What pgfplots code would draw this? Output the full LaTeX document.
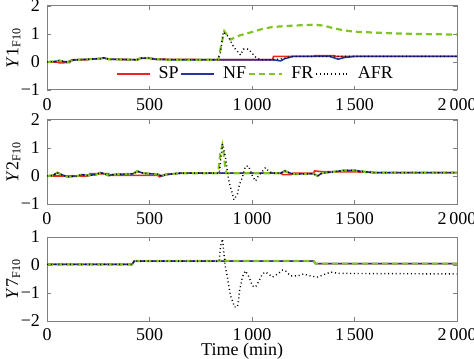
\documentclass[border=0pt]{standalone}
\usepackage{fontspec}
\setmainfont{Liberation Serif}
\usepackage{pgfplots}
\pgfplotsset{compat=1.18}
\definecolor{cSP}{RGB}{230,40,30}
\definecolor{cNF}{RGB}{40,50,160}
\definecolor{cFR}{RGB}{130,195,40}
\definecolor{cFrame}{RGB}{128,128,128}
\pgfplotsset{
 myax/.style={
  scale only axis, width=205pt, height=42pt,
  xmin=0, xmax=2000,
  xtick={0,500,1000,1500,2000},
  xticklabels={0,500,1\,000,1\,500,2\,000},
  tick align=inside, major tick length=2pt,
  axis line style={cFrame, line width=0.5pt},
  tick style={cFrame, line width=0.4pt},
  anchor=south west,
  ylabel style={at={(axis description cs:-0.082,0.5)}, anchor=center},
  xticklabel style={yshift=-0.5pt},
  legend image code/.code={\draw[##1] (0pt,0pt) -- (16.5pt,0pt);},
 },
 sp/.style={cSP, line width=0.8pt},
 nf/.style={cNF, line width=0.8pt},
 fr/.style={cFR, line width=1.1pt, dash pattern=on 3pt off 2pt},
 afr/.style={black, line width=0.7pt, dash pattern=on 0.5pt off 1.4pt},
}
\begin{document}
\begin{tikzpicture}[font=\fontsize{9}{10}\selectfont]
\path[use as bounding box] (0,0) rectangle (237pt,179pt);
% ---------------- Top: Y1 ----------------
\begin{axis}[myax, at={(23.5pt,134pt)},
  ymin=-1, ymax=2, ytick={-1,0,1,2}, yticklabels={−1,0,1,2},
  ylabel={\textit{Y}1\textsubscript{F10}},
  legend columns=4,
  legend style={at={(0.507,0.0)}, anchor=south, draw=none, fill=none,
    font=\fontsize{9}{10}\selectfont,
    nodes={inner xsep=0.5pt},
    /tikz/every even column/.append style={column sep=0.5pt},
    /tikz/every odd column/.append style={column sep=3.5pt}},
  ]
\addplot[sp] coordinates {(0,0)(50,0)(60,-0.03)(110,-0.02)(120,0.08)(200,0.08)(210,0.1)(260,0.12)(280,0.14)(300,0.1)(440,0.08)(450,0.13)(500,0.13)(520,0.1)(850,0.08)(1100,0.08)(1105,0.2)(1200,0.2)(1300,0.2)(1305,0.23)(1400,0.23)(1410,0.2)(2000,0.2)};
\addlegendentry{SP}
\addplot[nf] coordinates {(0,0)(40,0.02)(60,0.05)(80,0.02)(100,0)(130,0.07)(200,0.1)(260,0.12)(275,0.15)(300,0.1)(440,0.08)(460,0.14)(500,0.14)(530,0.1)(600,0.08)(850,0.08)(1100,0.08)(1140,0.04)(1160,0.12)(1200,0.2)(1380,0.2)(1420,0.1)(1450,0.16)(1500,0.2)(2000,0.2)};
\addlegendentry{NF}
\addplot[fr] coordinates {(0,0)(40,0.02)(60,0.05)(80,0.02)(100,0)(130,0.07)(200,0.1)(260,0.12)(275,0.15)(300,0.1)(440,0.08)(460,0.14)(500,0.14)(530,0.1)(600,0.08)(830,0.08)(836,0.1)(850,0.6)(865,1.1)(880,0.95)(895,0.8)(910,0.85)(940,0.95)(1000,1.07)(1050,1.18)(1100,1.25)(1200,1.3)(1300,1.33)(1350,1.3)(1400,1.2)(1450,1.13)(1500,1.08)(1600,1.05)(1700,1.02)(1800,1.0)(2000,0.98)};
\addlegendentry{FR}
\addplot[afr] coordinates {(0,0)(40,0.02)(60,0.05)(80,0.02)(100,0)(130,0.07)(200,0.1)(260,0.12)(275,0.15)(300,0.1)(440,0.08)(460,0.14)(500,0.14)(530,0.1)(600,0.08)(830,0.08)(845,0.3)(860,1.07)(885,0.9)(910,0.54)(944,0.25)(958,0.46)(983,0.46)(1002,0.3)(1017,0.18)(1040,0.08)(1100,0.08)(1150,0.12)(1200,0.2)(2000,0.2)};
\addlegendentry{AFR}
\end{axis}
% ---------------- Middle: Y2 ----------------
\begin{axis}[myax, at={(23.5pt,77pt)},
  ymin=-1, ymax=2, ytick={-1,0,1,2}, yticklabels={−1,0,1,2},
  ylabel={\textit{Y}2\textsubscript{F10}},
  ]
\addplot[sp] coordinates {(0,0)(200,0)(210,0.08)(300,0.08)(310,0.02)(540,0.02)(550,-0.03)(570,0.05)(650,0.1)(1140,0.1)(1150,0.05)(1190,0.05)(1200,0.1)(1300,0.1)(1305,0.18)(1350,0.15)(1500,0.15)(1600,0.12)(2000,0.12)};
\addplot[nf] coordinates {(0,0)(30,0.02)(50,0.12)(70,0.05)(100,-0.03)(150,0)(170,0.05)(200,0.02)(240,0.05)(260,0.12)(280,0.08)(300,0.02)(320,0.05)(420,0.08)(440,0.17)(470,0.1)(540,0.06)(560,0)(580,0.05)(650,0.1)(1140,0.1)(1160,0.18)(1180,0.12)(1200,0.07)(1300,0.08)(1320,0)(1340,0.1)(1400,0.15)(1450,0.2)(1500,0.2)(1550,0.15)(1600,0.12)(2000,0.12)};
\addplot[fr] coordinates {(0,0)(30,0.02)(50,0.12)(70,0.05)(100,-0.03)(150,0)(170,0.05)(200,0.02)(240,0.05)(260,0.12)(280,0.08)(300,0.02)(320,0.05)(420,0.08)(440,0.17)(470,0.1)(540,0.06)(560,0)(580,0.05)(650,0.1)(830,0.1)(835,0.1)(845,0.8)(855,1.1)(862,0.8)(868,0.4)(875,0.1)(1140,0.1)(1160,0.18)(1180,0.12)(1200,0.07)(1300,0.08)(1320,0)(1340,0.1)(1400,0.15)(1450,0.2)(1500,0.2)(1550,0.15)(1600,0.12)(2000,0.12)};
\addplot[afr] coordinates {(0,0)(30,0.02)(50,0.12)(70,0.05)(100,-0.03)(150,0)(170,0.05)(200,0.02)(240,0.05)(260,0.12)(280,0.08)(300,0.02)(320,0.05)(420,0.08)(440,0.17)(470,0.1)(540,0.06)(560,0)(580,0.05)(650,0.1)(840,0.1)(856,1.14)(870,0.7)(885,-0.1)(895,-0.4)(905,-0.64)(912,-0.85)(929,-0.64)(939,-0.3)(953,-0.05)(968,0.35)(983,0.35)(1002,0)(1017,-0.18)(1031,0)(1066,0.3)(1080,0.18)(1100,0.1)(1140,0.1)(1160,0.18)(1180,0.12)(1200,0.07)(1300,0.08)(1320,0)(1340,0.1)(1400,0.15)(1450,0.2)(1500,0.2)(1550,0.15)(1600,0.12)(2000,0.12)};
\end{axis}
% ---------------- Bottom: Y7 ----------------
\begin{axis}[myax, at={(23.5pt,18.5pt)},
  ymin=-2, ymax=1, ytick={-2,-1,0,1}, yticklabels={−2,−1,0,1},
  ylabel={\textit{Y}7\textsubscript{F10}},
  xticklabel style={yshift=0.5pt},
  xlabel={Time (min)},
  xlabel style={at={(axis description cs:0.476,0)}, anchor=center, yshift=-15pt},
  ]
\addplot[sp] coordinates {(0,0.02)(415,0.02)(425,0.14)(1300,0.14)(1310,0.05)(2000,0.05)};
\addplot[nf] coordinates {(0,0.02)(415,0.02)(425,0.14)(1300,0.14)(1310,0.05)(2000,0.05)};
\addplot[fr] coordinates {(0,0.02)(415,0.02)(425,0.14)(850,0.14)(862,0.22)(875,0.14)(1300,0.14)(1310,0.05)(2000,0.05)};
\addplot[afr] coordinates {(0,0.02)(415,0.02)(425,0.14)(840,0.14)(846,0.64)(856,0.93)(861,0.57)(870,-0.07)(880,-0.43)(888,-0.8)(895,-1.1)(905,-1.29)(915,-1.5)(929,-1.5)(934,-1.29)(939,-0.93)(953,-0.43)(968,-0.21)(983,-0.39)(1002,-0.75)(1017,-0.79)(1031,-0.61)(1051,-0.32)(1066,-0.25)(1080,-0.32)(1100,-0.43)(1125,-0.32)(1149,-0.18)(1164,-0.21)(1188,-0.39)(1222,-0.39)(1252,-0.32)(1290,-0.4)(1320,-0.43)(1384,-0.25)(1420,-0.3)(2000,-0.32)};
\end{axis}
\end{tikzpicture}
\end{document}
